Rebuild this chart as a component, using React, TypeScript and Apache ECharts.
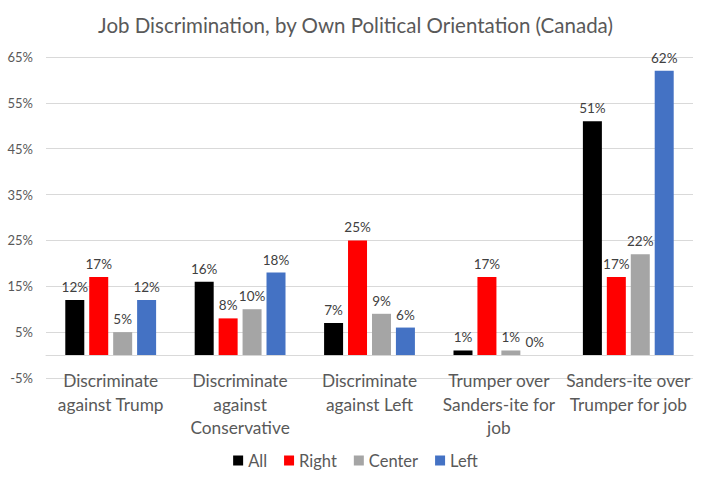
import React, { useEffect, useRef } from "react";
import * as echarts from "echarts";

const categories = [
  "Discriminate\nagainst Trump",
  "Discriminate\nagainst\nConservative",
  "Discriminate\nagainst Left",
  "Trumper over\nSanders-ite for\njob",
  "Sanders-ite over\nTrumper for job",
];
const allValues = [12, 16, 7, 1, 51];
const rightValues = [17, 8, 25, 17, 17];
const centerValues = [5, 10, 9, 1, 22];
const leftValues = [12, 18, 6, 0, 62];
const seriesNames = ["All", "Right", "Center", "Left"];
const seriesColors = ["#000000", "#ff0000", "#a5a5a5", "#4472c4"];

const FONT = "Lato, 'Open Sans', sans-serif";

export default function App() {
  const ref = useRef<HTMLDivElement>(null);
  useEffect(() => {
    document.body.style.margin = "0";
    const chart = echarts.init(ref.current!, null, { renderer: "svg" });
    const data = [allValues, rightValues, centerValues, leftValues];
    chart.setOption({
      animation: false,
      backgroundColor: "#ffffff",
      textStyle: { fontFamily: FONT },
      title: {
        text: "Job Discrimination, by Own Political Orientation (Canada)",
        left: "center",
        top: 9,
        textStyle: { fontFamily: FONT, fontSize: 20.5, fontWeight: "normal", color: "#595959" },
      },
      legend: {
        data: seriesNames,
        bottom: 15,
        left: "center",
        icon: "rect",
        itemWidth: 10,
        itemHeight: 10,
        itemGap: 17,
        textStyle: { fontFamily: FONT, fontSize: 16.5, color: "#595959" },
      },
      grid: { left: 46, right: 18, top: 57, bottom: 111, containLabel: false },
      xAxis: {
        type: "category",
        data: categories,
        axisLine: { onZero: true, lineStyle: { color: "#d9d9d9" } },
        axisTick: { show: false },
        axisLabel: {
          fontFamily: FONT,
          fontSize: 17.3,
          color: "#595959",
          lineHeight: 23.5,
          margin: -9,
          interval: 0,
        },
      },
      yAxis: {
        type: "value",
        min: -5,
        max: 65,
        interval: 10,
        axisLine: { show: false },
        axisTick: { show: false },
        splitLine: { lineStyle: { color: "#d9d9d9" } },
        axisLabel: {
          fontFamily: FONT,
          fontSize: 13,
          color: "#595959",
          margin: 13,
          formatter: (v: number) => `${v}%`,
        },
      },
      series: seriesNames.map((name, i) => ({
        name,
        type: "bar",
        data: data[i],
        barWidth: 19,
        barGap: "26%",
        itemStyle: { color: seriesColors[i] },
        label: {
          show: true,
          position: "top",
          distance: 6,
          fontFamily: FONT,
          fontSize: 13.5,
          color: "#404040",
          formatter: (p: any) => `${p.value}%`,
        },
      })),
    });
    return () => chart.dispose();
  }, []);
  return <div ref={ref} style={{ width: 711, height: 489 }} />;
}
